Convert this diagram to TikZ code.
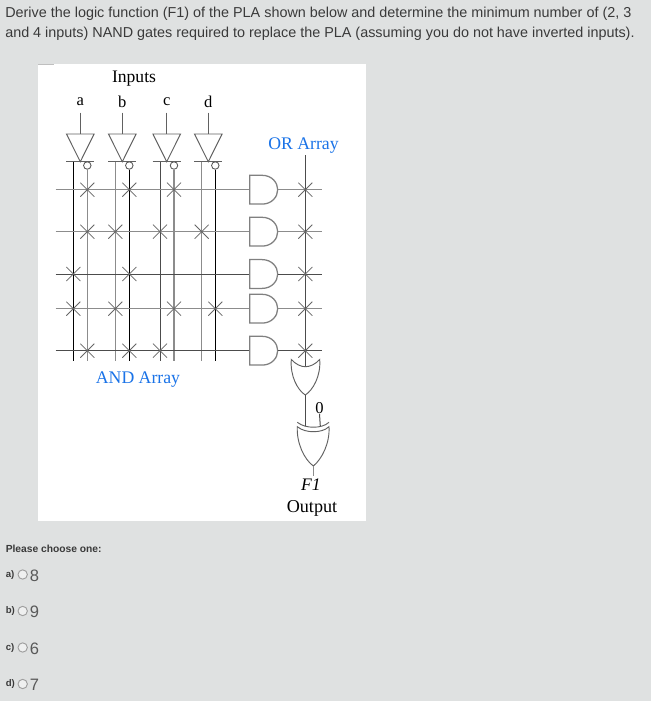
\documentclass[tikz,border=0pt]{standalone}
\usepackage{fontspec}
\setmainfont{Liberation Sans}
\newfontfamily\serifface{Liberation Serif}
\usetikzlibrary{calc}
\definecolor{pagebg}{HTML}{DFE1E1}
\definecolor{linkblue}{HTML}{1A73E8}
\definecolor{bodytext}{HTML}{3A3A3A}
\definecolor{wire}{HTML}{8C8C8C}
\tikzset{
  wireline/.style={draw=wire,line width=0.95pt},
  darkwire/.style={draw=black,line width=0.7pt},
  midwire/.style={draw=black!70,line width=0.75pt},
  gateline/.style={draw=black!62,line width=0.7pt},
  andgate/.style={draw=black!50,line width=0.95pt},
  fuse/.style={draw=black!60,line width=0.55pt},
  bubble/.style={circle,draw=black!65,fill=white,line width=0.65pt,inner sep=0pt,minimum size=5.6pt},
  para/.style={anchor=west,inner sep=0pt,text=bodytext,font=\fontsize{10.79pt}{12pt}\selectfont},
  sch/.style={inner sep=0pt,text=black,font=\serifface\fontsize{13.2pt}{15pt}\selectfont},
  schsmall/.style={inner sep=0pt,text=black,font=\serifface\fontsize{12.4pt}{14pt}\selectfont},
  schblue/.style={inner sep=0pt,text=linkblue,font=\serifface\fontsize{13.3pt}{15pt}\selectfont},
  lbl/.style={anchor=west,inner sep=0pt,text=bodytext,font=\bfseries\fontsize{7.2pt}{9pt}\selectfont},
  val/.style={anchor=west,inner sep=0pt,text=black!65,font=\fontsize{12.4pt}{14pt}\selectfont},
  radio/.style={circle,draw=black!38,fill=pagebg!50!white,line width=0.7pt,inner sep=0pt,minimum size=7pt}
}
\newcommand{\fusemark}[1]{\draw[fuse] ($(#1)+(-7,-7)$) -- ($(#1)+(7,7)$) ($(#1)+(-7,7)$) -- ($(#1)+(7,-7)$);}
\begin{document}
\begin{tikzpicture}[x=0.75pt,y=-0.75pt]
\useasboundingbox (0,0) rectangle (651,701);
\fill[pagebg] (0,0) rectangle (651,701);
\fill[white] (38,64) rectangle (366,521);
\draw[black!25,line width=0.5pt] (38,64.5) -- (54,64.5);

\node[para] (line1) at (5,13.5) {Derive the logic function (F1) of the PLA shown below and determine the minimum number of (2, 3};
\node[para] (line2) at (5,33.5) {and 4 inputs) NAND gates required to replace the PLA (assuming you do not have inverted inputs).};

\node[sch] (inputs) at (134,79) {Inputs};
\node[schblue] (orlabel) at (303.5,145.5) {OR Array};
\node[schblue] (andlabel) at (138,380) {AND Array};
\node[sch] (f1) at (311,485) {\itshape F1};
\node[sch,font=\serifface\fontsize{13.6pt}{15pt}\selectfont] (output) at (312,508) {Output};

% inputs and inverters
\foreach \n/\cx/\tx/\cmp/\lab in {a/80.3/73.3/87.3/a,b/122.3/115.3/129.3/b,c/166.7/160/174/c,d/208.3/201.7/215.3/d}{
  \node[schsmall] (in\n) at (\cx,102) {\lab};
  \coordinate (top\n) at (\cx,134);
  \coordinate (apex\n) at (\cx,161.7);
  \draw[gateline] (\cx,112.7) -- (top\n);
  \draw[gateline] (\cx-13.8,134) -- (\cx+13.8,134) -- (apex\n) -- cycle;
  \draw[gateline] (\cx-14,161.7) -- (\cx+14,161.7);
  \coordinate (t\n) at (\tx,161.7);
  \coordinate (tb\n) at (\tx,360.7);
  \node[bubble] (bub\n) at (\cmp,165.5) {};
  \coordinate (fb\n) at (\cmp,360.7);
}
\draw[darkwire] (ta) -- (tba);
\draw[wireline] (buba) -- (fba);
\draw[wireline] (tb) -- (tbb);
\draw[darkwire] (bubb) -- (fbb);
\draw[midwire] (tc) -- (tbc);
\draw[wireline] (bubc) -- (fbc);
\draw[wireline] (td) -- (tbd);
\draw[darkwire] (bubd) -- (fbd);

% OR array spine
\coordinate (orTop) at (305.3,155);
\coordinate (orBot) at (305.3,366.7);
\draw[midwire] (orTop) -- (orBot);

% product terms
\foreach \r/\y/\sty in {1/189.7/wireline,2/231.7/wireline,3/274/midwire,4/308.7/wireline,5/350.7/midwire}{
  \coordinate (ls\r) at (55.5,\y);
  \coordinate (ai\r) at (249.7,\y);
  \coordinate (ao\r) at (277.7,\y);
  \coordinate (oe\r) at (322.3,\y);
  \draw[\sty] (ls\r) -- (ai\r);
  \draw[andgate] (249.7,\y-14.4) -- (262,\y-14.4) .. controls (272,\y-14.4) and (277.7,\y-7) .. (ao\r) .. controls (277.7,\y+7) and (272,\y+14.4) .. (262,\y+14.4) -- (249.7,\y+14.4) -- cycle;
  \draw[\sty] (ao\r) -- (oe\r);
  \fusemark{305.3,\y}
}
\foreach \x/\y in {87.3/189.7,129.3/189.7,174/189.7,
  87.3/231.7,115.3/231.7,160/231.7,201.7/231.7,
  73.3/274,129.3/274,
  73.3/308.7,115.3/308.7,174/308.7,215.3/308.7,
  87.3/350.7,129.3/350.7,160/350.7}{
  \fusemark{\x,\y}
}

% OR gate
\coordinate (orOut) at (305.3,395);
\draw[gateline] (291.3,359.5) .. controls (296,364.5) and (301,366.7) .. (305.3,366.7) .. controls (310,366.7) and (315,364.5) .. (319.7,359.5)
  .. controls (321,376) and (313,390) .. (orOut) .. controls (297.5,390) and (290,376) .. (291.3,359.5) -- cycle;

% XOR gate
\coordinate (xorA) at (305.3,426);
\coordinate (xorB) at (320.3,426);
\coordinate (xorOut) at (313.3,466);
\coordinate (fend) at (313.3,476);
\node[schsmall] (zero) at (319.5,408) {0};
\draw[midwire] (orOut) -- (xorA);
\draw[midwire] (zero.south) -- (xorB);
\draw[gateline] (297.3,426.7) .. controls (302,430.5) and (308,431.7) .. (313.3,431.7) .. controls (319,431.7) and (325,430.5) .. (329,426.7)
  .. controls (330,443) and (322,459) .. (xorOut) .. controls (304,459) and (296.5,443) .. (297.3,426.7) -- cycle;
\draw[gateline] (297.3,422.3) .. controls (302,426) and (308,427.2) .. (313.3,427.2) .. controls (319,427.2) and (325,426) .. (329,422.3);
\draw[wireline] (xorOut) -- (fend);

% choices
\node[lbl,font=\bfseries\fontsize{7.7pt}{9pt}\selectfont] (choose) at (5.5,549) {Please choose one:};
\foreach \n/\y/\t/\v in {a/574.5/a)/8,b/611/b)/9,c/647.5/c)/6,d/684/d)/7}{
  \node[lbl] (l\n) at (5.5,\y+0.5) {\t};
  \node[radio] (r\n) at (22.7,\y) {};
  \node[val] (v\n) at (29.5,\y+1) {\v};
}
\end{tikzpicture}
\end{document}
